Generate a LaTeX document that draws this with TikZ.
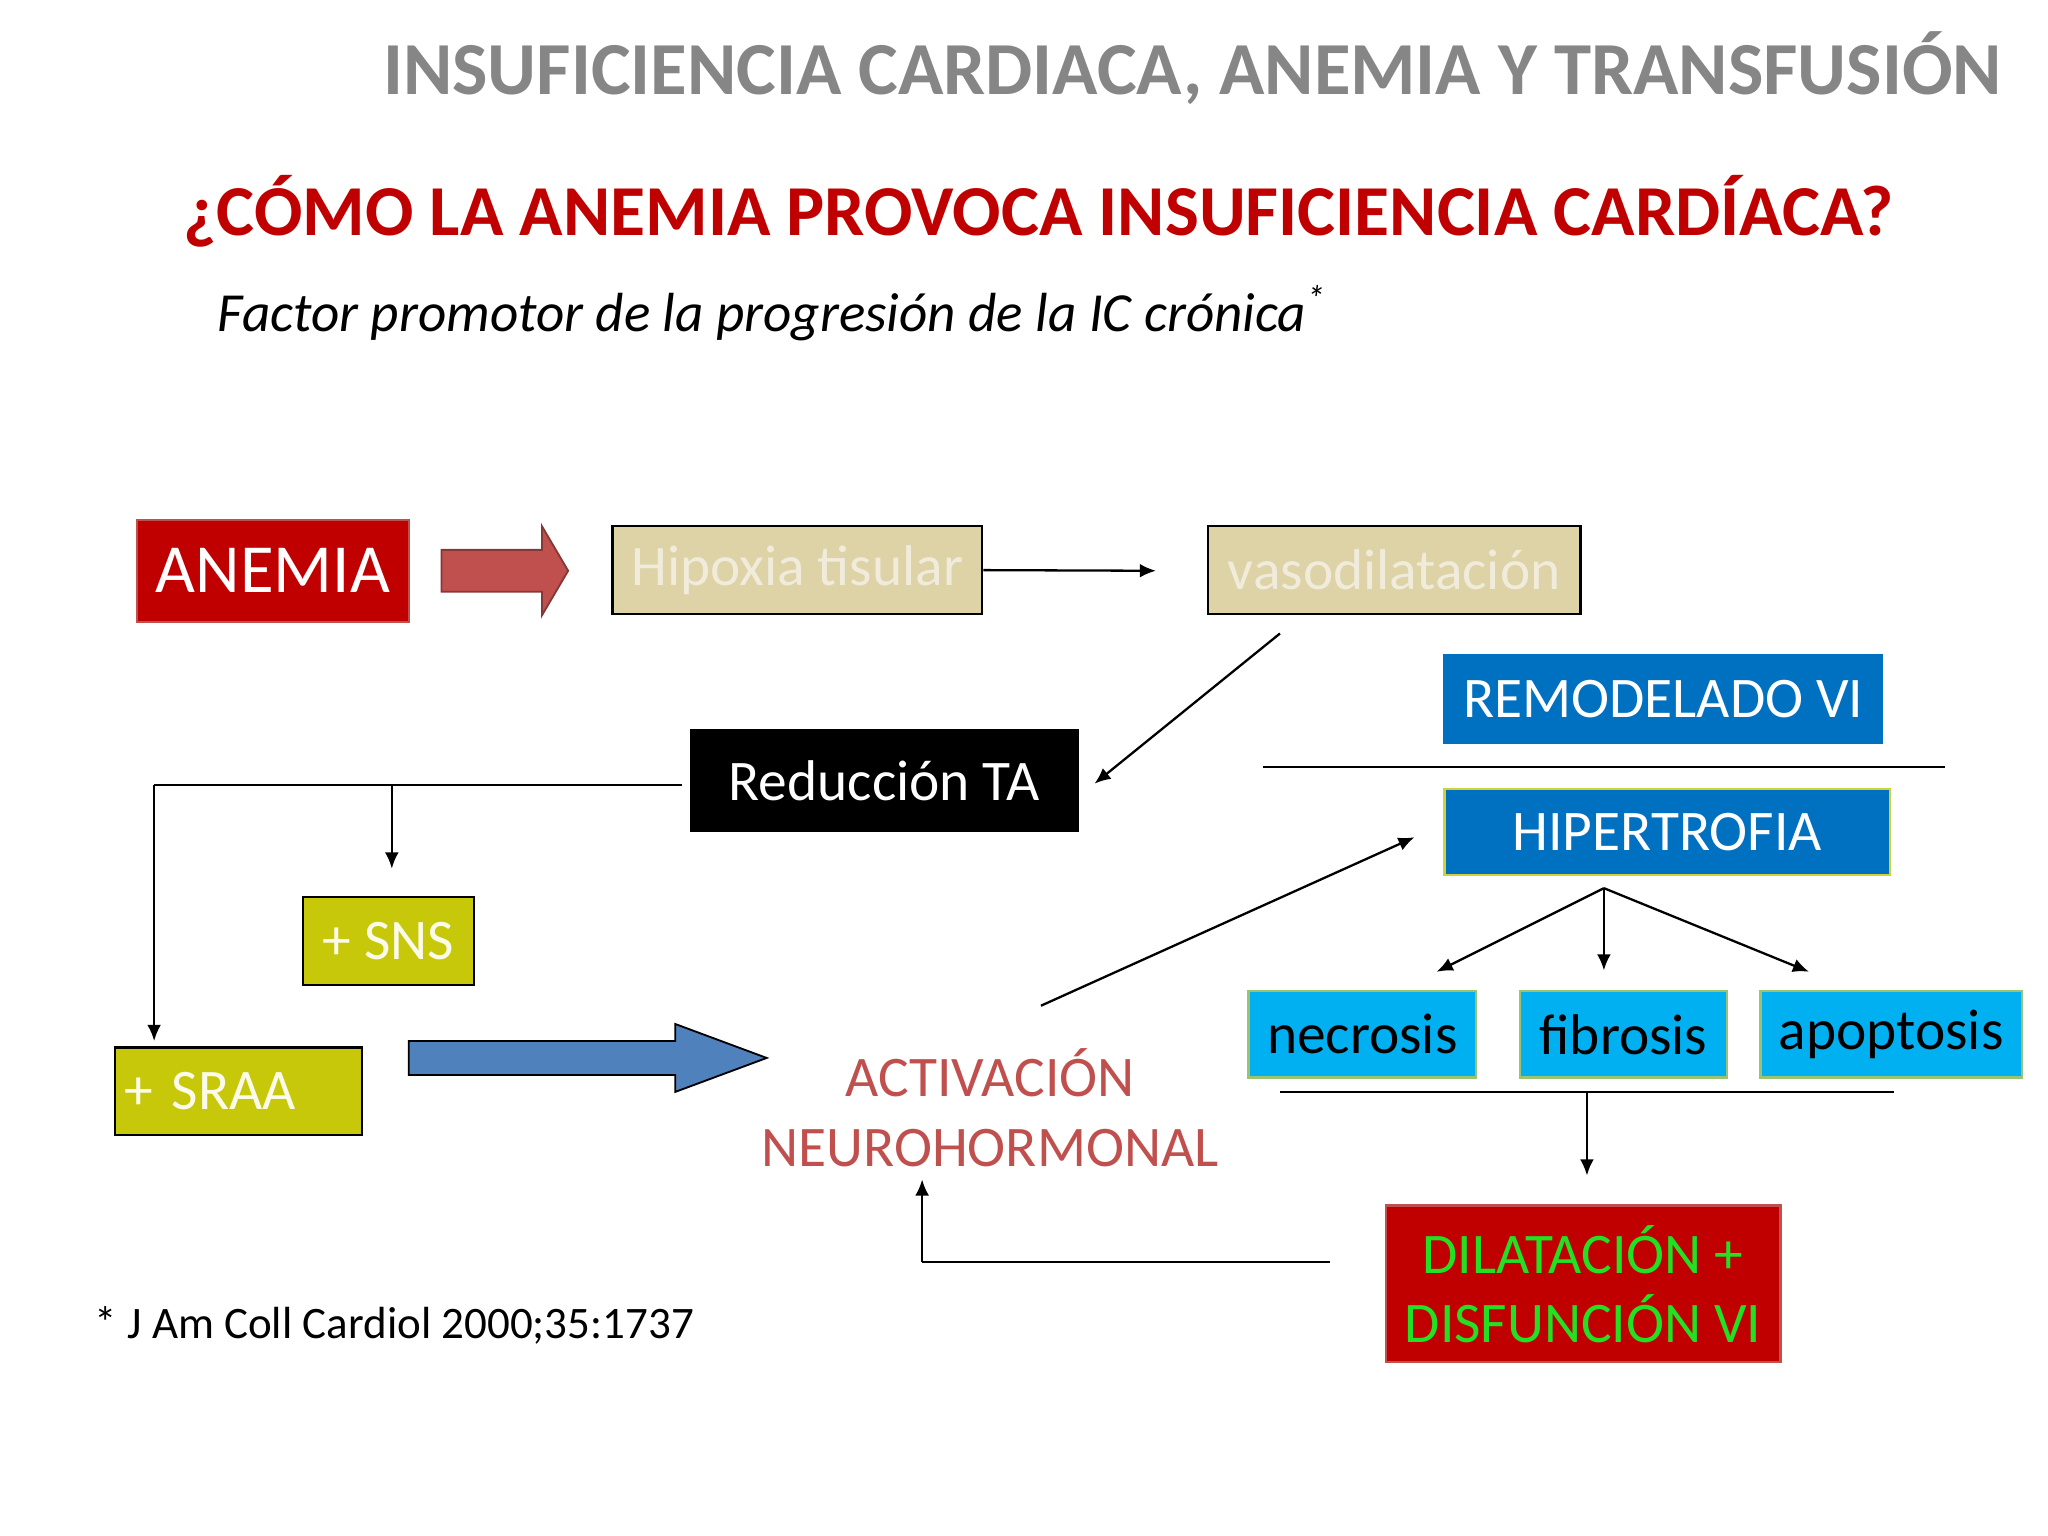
\documentclass[tikz,border=0pt]{standalone}
\usepackage{fontspec}
\setmainfont{Carlito}
\usetikzlibrary{arrows.meta}
\definecolor{dred}{HTML}{C00000}
\definecolor{tan}{HTML}{DDD3A6}
\definecolor{tantext}{HTML}{F0EBDB}
\definecolor{olive}{HTML}{C8C80A}
\definecolor{blu}{HTML}{0070C0}
\definecolor{cyan2}{HTML}{00B0F0}
\definecolor{rose}{HTML}{C0504D}
\definecolor{arrblue}{HTML}{4F81BD}
\definecolor{grn}{HTML}{22E022}
\begin{document}
\begin{tikzpicture}[x=0.01cm,y=-0.01cm,
  box/.style={draw=black,line width=0.5pt,inner sep=0pt,anchor=center},
  arr/.style={-{Latex[length=3.5pt,width=3pt]},line width=0.5pt},
  ln/.style={line width=0.5pt}]
\useasboundingbox (0,0) rectangle (1568,1176);
\fill[white] (0,0) rectangle (1568,1176);
% titles
\node[anchor=east,text=gray!95,font=\fontsize{16.3}{18}\selectfont\bfseries] (t1) at (1545,52) {INSUFICIENCIA CARDIACA, ANEMIA Y TRANSFUSIÓN};
\node[anchor=west,text=dred,font=\fontsize{15.6}{18}\selectfont\bfseries,inner sep=0pt] (t2) at (140,162) {¿CÓMO LA ANEMIA PROVOCA INSUFICIENCIA CARDÍACA?};
\node[anchor=west,font=\fontsize{12}{14}\selectfont\itshape,inner sep=0pt] (t3) at (166,240) {Factor promotor de la progresión de la IC crónica\textsuperscript{*}};
% boxes
\node[box,fill=dred,draw=rose,text=white,minimum width=208\pgflinewidth*0+2.08cm*0.01/0.01,minimum height=0.78cm,font=\fontsize{15}{17}\selectfont] (anemia) at (209,437) {ANEMIA};
\node[box,fill=tan,text=tantext,minimum width=2.83cm,minimum height=0.67cm,font=\fontsize{12.5}{14}\selectfont] (hip) at (610.5,436.5) {Hipoxia tisular};
\node[box,fill=tan,text=tantext,minimum width=2.85cm,minimum height=0.67cm,font=\fontsize{12.5}{14}\selectfont] (vaso) at (1067.5,436.5) {vasodilatación};
\node[box,fill=black,text=white,minimum width=2.96cm,minimum height=0.77cm,font=\fontsize{12.5}{14}\selectfont] (red) at (677,597.5) {Reducción TA};
\node[box,fill=olive,text=white!92!olive,minimum width=1.31cm,minimum height=0.67cm,font=\fontsize{12.5}{14}\selectfont] (sns) at (297.5,720.5) {+ SNS};
\node[box,fill=olive,text=white!92!olive,minimum width=1.89cm,minimum height=0.67cm,font=\fontsize{12.5}{14}\selectfont,text width=1.75cm,align=left] (sraa) at (182.5,835.5) {+ SRAA};
\node[text=rose,align=center,font=\fontsize{12.5}{15.1}\selectfont,inner sep=0pt] (act) at (758,848) {ACTIVACIÓN\\NEUROHORMONAL};
\node[box,fill=blu,draw=blu,text=white,minimum width=3.35cm,minimum height=0.67cm,font=\fontsize{12.5}{14}\selectfont] (rem) at (1273.5,535.5) {REMODELADO VI};
\node[box,fill=blu,draw=yellow!80!blu,text=white,minimum width=3.41cm,minimum height=0.66cm,font=\fontsize{12.5}{14}\selectfont] (hiper) at (1276.5,637) {HIPERTROFIA};
\node[box,fill=cyan2,draw=yellow!60!cyan2,minimum width=1.74cm,minimum height=0.66cm,font=\fontsize{12.5}{14}\selectfont] (nec) at (1043,792) {necrosis};
\node[box,fill=cyan2,draw=yellow!60!cyan2,minimum width=1.58cm,minimum height=0.66cm,font=\fontsize{12.5}{14}\selectfont] (fib) at (1243,792) {fibrosis};
\node[box,fill=cyan2,draw=yellow!60!cyan2,minimum width=2.0cm,minimum height=0.66cm,font=\fontsize{12.5}{14}\selectfont] (apo) at (1448,792) {apoptosis};
\node[box,fill=dred,draw=rose,text=grn,minimum width=3.02cm,minimum height=1.2cm,align=center,font=\fontsize{12.5}{15}\selectfont] (dil) at (1212,983) {DILATACIÓN +\\DISFUNCIÓN VI};
\node[anchor=west,inner sep=0pt,font=\fontsize{9.8}{12}\selectfont] (ref) at (72,1015) {* J Am Coll Cardiol 2000;35:1737};
% block arrows
\fill[rose,draw=rose!70!black,line width=0.4pt] (338,421)--(415,421)--(415,403)--(435,437)--(415,471)--(415,453)--(338,453)--cycle;
\fill[arrblue,draw=black,line width=0.4pt] (313,797)--(517,797)--(517,784)--(587,810)--(517,836)--(517,823)--(313,823)--cycle;
% connectors
\coordinate (h1) at (885,437);
\draw[arr] (hip.east) -- (h1);
\coordinate (v1) at (980,485); \coordinate (r1) at (838,600);
\draw[arr] (v1) -- (r1);
\coordinate (b0) at (522,601); \coordinate (b1) at (118,601); \coordinate (b2) at (118,797);
\coordinate (s0) at (300,601); \coordinate (s1) at (300,665);
\draw[ln] (b0) -- (b1);
\draw[arr] (b1) -- (b2);
\draw[arr] (s0) -- (s1);
\coordinate (a1) at (797,770); \coordinate (a2) at (1083,641);
\draw[arr] (a1) -- (a2);
\coordinate (l1) at (967,587); \coordinate (l2) at (1489,587);
\draw[ln] (l1) -- (l2);
\coordinate (hp) at (1228,680);
\coordinate (n1) at (1100,744); \coordinate (f1) at (1228,743); \coordinate (p1) at (1385,744);
\draw[arr] (hp) -- (n1); \draw[arr] (hp) -- (f1); \draw[arr] (hp) -- (p1);
\coordinate (m1) at (980,836); \coordinate (m2) at (1450,836);
\draw[ln] (m1) -- (m2);
\coordinate (d0) at (1215,836); \coordinate (d1) at (1215,900);
\draw[arr] (d0) -- (d1);
\coordinate (e0) at (1018,966); \coordinate (e1) at (706,966); \coordinate (e2) at (706,903);
\draw[ln] (e0) -- (e1);
\draw[arr] (e1) -- (e2);
\end{tikzpicture}
\end{document}
